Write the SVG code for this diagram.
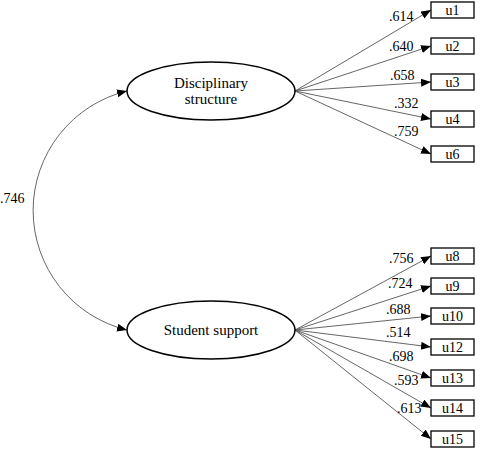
<svg xmlns="http://www.w3.org/2000/svg" width="480" height="449" viewBox="0 0 480 449">
<defs>
<marker id="ah" markerUnits="userSpaceOnUse" markerWidth="11" markerHeight="9" refX="10" refY="4" orient="auto-start-reverse">
<path d="M0,0 L10,4 L0,8 z" fill="#000"/>
</marker>
<style>
.lat{fill:#fff;stroke:#000;stroke-width:1.5}
.obs{fill:#fff;stroke:#000;stroke-width:1.3}
.con{fill:none;stroke:#555;stroke-width:0.9;marker-end:url(#ah)}
.t{font-family:"Liberation Serif","Times New Roman",serif;fill:#000}
.nl{font-size:15px;text-anchor:middle}
.bl{font-size:14px;text-anchor:middle}
.el{font-size:14px}
</style>
</defs>
<rect width="480" height="449" fill="#fff"/>
<g id="connectors">
<path class="con" d="M127,91 A123,123 0 0 0 127,330" style="marker-start:url(#ah)"/>
<line class="con" x1="295" y1="91" x2="431" y2="10"/>
<line class="con" x1="295" y1="91" x2="431" y2="46"/>
<line class="con" x1="295" y1="91" x2="431" y2="82"/>
<line class="con" x1="295" y1="91" x2="431" y2="119"/>
<line class="con" x1="295" y1="91" x2="431" y2="154"/>
<line class="con" x1="295" y1="330" x2="431" y2="256"/>
<line class="con" x1="295" y1="330" x2="431" y2="286"/>
<line class="con" x1="295" y1="330" x2="431" y2="316"/>
<line class="con" x1="295" y1="330" x2="431" y2="347"/>
<line class="con" x1="295" y1="330" x2="431" y2="378"/>
<line class="con" x1="295" y1="330" x2="431" y2="408"/>
<line class="con" x1="295" y1="330" x2="431" y2="439"/>
<g class="t el" font-family="Liberation Serif, serif">
<text x="0" y="203">.746</text>
<text x="389" y="21">.614</text>
<text x="389" y="51">.640</text>
<text x="390" y="80">.658</text>
<text x="394" y="108">.332</text>
<text x="394" y="136">.759</text>
<text x="389" y="263">.756</text>
<text x="388" y="288">.724</text>
<text x="386" y="314">.688</text>
<text x="386" y="337">.514</text>
<text x="389" y="361">.698</text>
<text x="394" y="385">.593</text>
<text x="397" y="413">.613</text>
</g>
</g>
<g id="disciplinary" font-family="Liberation Serif, serif">
<ellipse class="lat" cx="211" cy="91" rx="84" ry="29"/>
<text class="t nl" x="211" y="88">Disciplinary</text>
<text class="t nl" x="211" y="104">structure</text>
</g>
<g id="student" font-family="Liberation Serif, serif">
<ellipse class="lat" cx="211" cy="330" rx="84" ry="29"/>
<text class="t nl" x="211" y="335">Student support</text>
</g>
<g font-family="Liberation Serif, serif">
<g id="u1"><rect class="obs" x="431" y="2" width="43" height="16"/><text class="t bl" x="452.5" y="15">u1</text></g>
<g id="u2"><rect class="obs" x="431" y="38" width="43" height="16"/><text class="t bl" x="452.5" y="51">u2</text></g>
<g id="u3"><rect class="obs" x="431" y="74" width="43" height="16"/><text class="t bl" x="452.5" y="87">u3</text></g>
<g id="u4"><rect class="obs" x="431" y="111" width="43" height="16"/><text class="t bl" x="452.5" y="124">u4</text></g>
<g id="u6"><rect class="obs" x="431" y="146" width="43" height="16"/><text class="t bl" x="452.5" y="159">u6</text></g>
<g id="u8"><rect class="obs" x="431" y="248" width="43" height="16"/><text class="t bl" x="452.5" y="261">u8</text></g>
<g id="u9"><rect class="obs" x="431" y="278" width="43" height="16"/><text class="t bl" x="452.5" y="291">u9</text></g>
<g id="u10"><rect class="obs" x="431" y="308" width="43" height="16"/><text class="t bl" x="452.5" y="321">u10</text></g>
<g id="u12"><rect class="obs" x="431" y="339" width="43" height="16"/><text class="t bl" x="452.5" y="352">u12</text></g>
<g id="u13"><rect class="obs" x="431" y="370" width="43" height="16"/><text class="t bl" x="452.5" y="383">u13</text></g>
<g id="u14"><rect class="obs" x="431" y="400" width="43" height="16"/><text class="t bl" x="452.5" y="413">u14</text></g>
<g id="u15"><rect class="obs" x="431" y="431" width="43" height="16"/><text class="t bl" x="452.5" y="444">u15</text></g>
</g>
</svg>
